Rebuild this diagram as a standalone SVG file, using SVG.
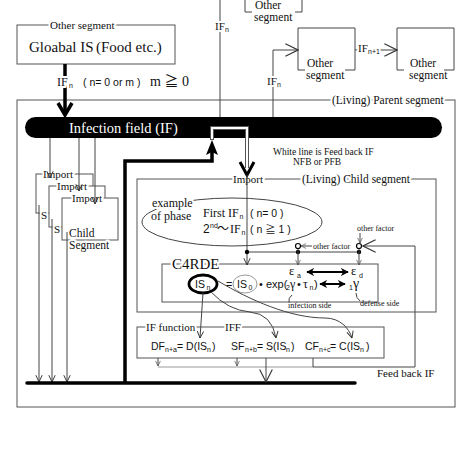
<svg xmlns="http://www.w3.org/2000/svg" width="474" height="474" viewBox="0 0 474 474">
<style>
.ln{fill:none;stroke:#444;stroke-width:1}
.bx{fill:#fff;stroke:#555;stroke-width:1}
.t{font-family:"Liberation Serif","Noto Sans CJK JP",serif;fill:#111}
.s{font-family:"Liberation Sans","Noto Sans CJK JP",sans-serif;fill:#111}
.h{paint-order:stroke;stroke:#fff;stroke-width:4px;stroke-linejoin:round}
.thick{fill:none;stroke:#000;stroke-width:3.5}
.f{font-family:"Liberation Sans","Noto Sans CJK JP",sans-serif;fill:#111;font-size:10.5px}
.fs{font-family:"Liberation Sans",sans-serif;fill:#111;font-size:7px}
</style>
<defs>
<marker id="ao" viewBox="0 0 10 10" refX="9.5" refY="5" markerWidth="8" markerHeight="8" orient="auto" markerUnits="userSpaceOnUse"><path d="M1,1 L9.5,5 L1,9" fill="none" stroke="#333" stroke-width="1.2"/></marker>
<marker id="as" viewBox="0 0 10 10" refX="9.5" refY="5" markerWidth="6" markerHeight="6" orient="auto" markerUnits="userSpaceOnUse"><path d="M1,1 L9.5,5 L1,9" fill="none" stroke="#555" stroke-width="1.2"/></marker>
<marker id="ab" viewBox="0 0 10 10" refX="9.5" refY="5" markerWidth="14" markerHeight="14" orient="auto" markerUnits="userSpaceOnUse"><path d="M0.5,0.5 L9.5,5 L0.5,9.5" fill="none" stroke="#333" stroke-width="0.8"/></marker>
<marker id="af" viewBox="0 0 10 10" refX="9" refY="5" markerWidth="8" markerHeight="8" orient="auto-start-reverse" markerUnits="userSpaceOnUse"><path d="M0,0 L10,5 L0,10 L3,5 z" fill="#000"/></marker>
</defs>
<rect width="474" height="474" fill="#fff"/>

<g id="parent-segment">
<rect x="17" y="100" width="438" height="307" class="bx" stroke="#666"/>
<text x="332" y="104" class="t h" font-size="11.5">(Living) Parent segment</text>
</g>

<g id="global-is">
<rect x="17" y="25" width="158" height="39" class="bx"/>
<text x="50" y="29" class="t h" font-size="11">Other segment</text>
<text x="29" y="52" class="t" font-size="15">Gloabal IS</text>
<text x="96" y="52" class="t" font-size="15">(Food etc.)</text>
</g>

<g id="other-segment-top">
<path d="M245,0 V12 H252 M295,12 H302 V0" class="ln"/>
<text x="255" y="9" class="t" font-size="11.5">Other</text>
<text x="254" y="21" class="t" font-size="11.5">segment</text>
</g>
<g id="other-segment-1">
<path d="M305,70 H298 V28 H355 V70 H345" class="ln"/>
<text x="307" y="66.5" class="t" font-size="11.5">Other</text>
<text x="306" y="79" class="t" font-size="11.5">segment</text>
</g>
<g id="other-segment-2">
<path d="M404,70 H397 V28 H454 V70 H444" class="ln"/>
<text x="410" y="66.5" class="t" font-size="11.5">Other</text>
<text x="409" y="79" class="t" font-size="11.5">segment</text>
</g>

<g id="infection-field">
<rect x="25" y="117" width="417" height="21" rx="10.5" fill="#000"/>
<text x="69" y="133" class="t" font-size="14.5" style="fill:#fff">Infection field (IF)</text>
</g>

<g id="import-a">
<rect x="36" y="174" width="57" height="39" class="bx"/>
<text x="43" y="178" class="t h" font-size="11">Import</text>
<text x="41" y="219" class="t h" font-size="11">S</text>
</g>
<g id="import-b">
<rect x="49" y="186" width="56" height="41" class="bx"/>
<text x="57" y="190" class="t h" font-size="11">Import</text>
<text x="54" y="233" class="t h" font-size="11">S</text>
</g>
<g id="import-c">
<rect x="62" y="198" width="56" height="42" class="bx"/>
<text x="72" y="202" class="t h" font-size="11">Import</text>
<text x="69" y="236.5" class="t h" font-size="11.5">Child</text>
<text x="69" y="249" class="t h" font-size="11.5">Segment</text>
</g>

<g id="child-segment">
<rect x="137" y="179" width="299" height="133" class="bx" stroke="#666"/>
<text x="233" y="183" class="t h" font-size="11">Import</text>
<text x="302" y="183" class="t h" font-size="11.5">(Living) Child segment</text>
</g>

<g id="phase-example">
<ellipse cx="232" cy="222" rx="90" ry="24" class="ln" stroke="#333"/>
<text x="152" y="207" class="t h" font-size="12">example</text>
<text x="151" y="220" class="t h" font-size="12">of phase</text>
<text x="203" y="217" class="t" font-size="12">First</text>
<text x="228" y="217" class="t" font-size="12">IF</text>
<text x="239.5" y="219" class="fs">n</text>
<text x="250" y="217" class="s" font-size="10.5">( n= 0 )</text>
<text x="203" y="233" class="s" font-size="12">2</text>
<text x="210" y="228" class="fs" font-size="6.5">nd</text>
<text x="217" y="233" class="s" font-size="12">～</text>
<text x="230" y="233" class="t" font-size="12">IF</text>
<text x="241.5" y="235" class="fs">n</text>
<text x="250" y="233" class="s" font-size="10.5">( n ≧ 1 )</text>
</g>

<g id="c4rde">
<rect x="162" y="264" width="216" height="38" class="bx" stroke="#666"/>
<text x="172" y="269" class="t h" font-size="15">C4RDE</text>
<text x="289" y="275" class="t" font-size="12.5">ε</text>
<text x="297" y="278" class="fs">a</text>
<text x="351" y="275" class="t" font-size="12.5">ε</text>
<text x="359" y="278" class="fs">d</text>
<ellipse cx="203" cy="284" rx="14" ry="9" fill="none" stroke="#000" stroke-width="2.8"/>
<text x="195" y="288" class="s" font-size="10.5">IS</text>
<text x="206.5" y="290" class="fs">n</text>
<text x="226" y="288" class="s" font-size="11">=</text>
<ellipse cx="245" cy="284" rx="12" ry="9" fill="none" stroke="#999" stroke-width="1"/>
<text x="237" y="288" class="s" font-size="10.5">IS</text>
<text x="248.5" y="290" class="fs">0</text>
<text x="259" y="288" class="s" font-size="11">• exp(</text>
<text x="286" y="290" class="fs" font-size="6">2</text>
<text x="290" y="288" class="t" font-size="12">γ</text>
<text x="297" y="288" class="s" font-size="11">•</text>
<text x="303" y="288" class="t" font-size="12">τ</text>
<text x="309.5" y="290" class="fs">n</text>
<text x="314" y="288" class="s" font-size="11">)</text>
<text x="349" y="290" class="fs" font-size="6">1</text>
<text x="353" y="288" class="t" font-size="14">γ</text>
<text x="288" y="308" class="t" font-size="8">infection side</text>
<text x="360" y="306" class="t" font-size="8">defense side</text>
</g>

<g id="iff">
<rect x="137" y="327" width="247" height="31" class="bx" stroke="#666"/>
<text x="146" y="331" class="t h" font-size="11">IF function</text>
<text x="225" y="331" class="t h" font-size="11">IFF</text>
<text x="151" y="350" class="f">DF</text>
<text x="165" y="352" class="fs">n+a</text>
<text x="177" y="350" class="f">= D(IS</text>
<text x="207" y="352" class="fs">n</text>
<text x="212" y="350" class="f">)</text>
<text x="231" y="350" class="f">SF</text>
<text x="245" y="352" class="fs">n+b</text>
<text x="257" y="350" class="f">= S(IS</text>
<text x="286" y="352" class="fs">n</text>
<text x="291" y="350" class="f">)</text>
<text x="305" y="350" class="f">CF</text>
<text x="319" y="352" class="fs">n+c</text>
<text x="330" y="350" class="f">= C(IS</text>
<text x="360" y="352" class="fs">n</text>
<text x="366" y="350" class="f">)</text>
</g>

<g id="notes">
<text x="273" y="155" class="t" font-size="9.5">White line is Feed back IF</text>
<text x="293" y="165" class="t" font-size="9.5">NFB or PFB</text>
<text x="377" y="377" class="t" font-size="11">Feed back IF</text>
<text x="313" y="249" class="t" font-size="8">other factor</text>
<text x="357" y="231" class="t" font-size="8">other factor</text>
</g>

<g id="connectors">
<path d="M65,64 V115" class="thick"/>
<path d="M58,103 L65,115 L72,103" class="thick"/>
<text x="57" y="86" class="t h" font-size="12">IF</text>
<text x="69" y="88" class="fs">n</text>
<text x="83" y="86" class="s" font-size="10.5">( n= 0 or m )</text>
<text x="150" y="86" class="t" font-size="14">m ≧ 0</text>
<path d="M220,0 V117" class="ln"/>
<text x="215" y="30" class="t h" font-size="11">IF</text>
<text x="225" y="32" class="fs h">n</text>
<path d="M273,117 V50 H298" class="ln" marker-end="url(#ab)"/>
<text x="267" y="85" class="t h" font-size="11">IF</text>
<text x="277" y="87" class="fs h">n</text>
<path d="M355,50 H397" class="ln" marker-end="url(#ab)"/>
<text x="358" y="52" class="t h" font-size="11">IF</text>
<text x="368" y="54" class="fs h">n+1</text>
<path d="M50,138 V178" class="ln" marker-end="url(#ao)"/>
<path d="M79,138 V191" class="ln" marker-end="url(#ao)"/>
<path d="M95,138 V204" class="ln" marker-end="url(#ao)"/>
<path d="M39,205 V382" class="ln" marker-end="url(#ao)"/>
<path d="M52,219 V382" class="ln" marker-end="url(#ao)"/>
<path d="M67,232 V382" class="ln" marker-end="url(#ao)"/>
<path d="M27,383 H355" stroke="#000" stroke-width="3.5" stroke-linecap="round"/>
<path d="M125,383 V161 H212 V150" class="thick"/>
<path d="M206,155 L212,140 L218,155 L212,152 Z" fill="#000"/>
<path d="M212,140 V128 H247 V168" fill="none" stroke="#555" stroke-width="4"/>
<path d="M212,139 V128 H247 V168" fill="none" stroke="#fff" stroke-width="2"/>
<path d="M240,162 L247,175 L254,162" fill="none" stroke="#000" stroke-width="3"/>
<path d="M247,175 V265" class="ln" marker-end="url(#ao)"/>
<path d="M247,252 H359" class="ln"/>
<circle cx="247" cy="252" r="2.2" fill="#000"/>
<circle cx="298" cy="252" r="2.2" fill="#000"/>
<circle cx="359" cy="252" r="2.2" fill="#000"/>
<path d="M298,248.5 V265" class="ln" marker-end="url(#as)"/>
<path d="M359,248.5 V265" class="ln" marker-end="url(#as)"/>
<circle cx="298" cy="246" r="2.5" fill="#fff" stroke="#000" stroke-width="1.2"/>
<circle cx="359" cy="246" r="2.5" fill="#fff" stroke="#000" stroke-width="1.2"/>
<path d="M312,246 H301" class="ln" stroke-width="0.8" marker-end="url(#as)"/>
<path d="M360,233 V243" class="ln" stroke-width="0.8" marker-end="url(#as)"/>
<path d="M307,272 H348" stroke="#000" stroke-width="2" marker-start="url(#af)" marker-end="url(#af)"/>
<path d="M320,284 H345" stroke="#000" stroke-width="2" marker-start="url(#af)" marker-end="url(#af)"/>
<path d="M292,295 Q288,298 289,302" class="ln" stroke-width="0.8"/>
<path d="M356,293 Q356,298 360,301" class="ln" stroke-width="0.8"/>
<path d="M203,293 L200,338" class="ln" marker-end="url(#ao)"/>
<path d="M211,292 Q228,310 250,312 T276,338" class="ln" marker-end="url(#ao)"/>
<path d="M218,281 C250,300 290,318 325,318 C340,318 349,328 352,338" class="ln" marker-end="url(#ao)"/>
<path d="M158,367 H313" fill="none" stroke="#999" stroke-width="1"/>
<path d="M158,358 V366" class="ln" stroke="#777" marker-end="url(#as)"/>
<path d="M237,358 V366" class="ln" stroke="#777" marker-end="url(#as)"/>
<path d="M266,358 V382" class="ln" marker-end="url(#ab)"/>
<path d="M313,358 V367 H415 V246 H363" class="ln" marker-end="url(#ab)"/>
</g>
</svg>
